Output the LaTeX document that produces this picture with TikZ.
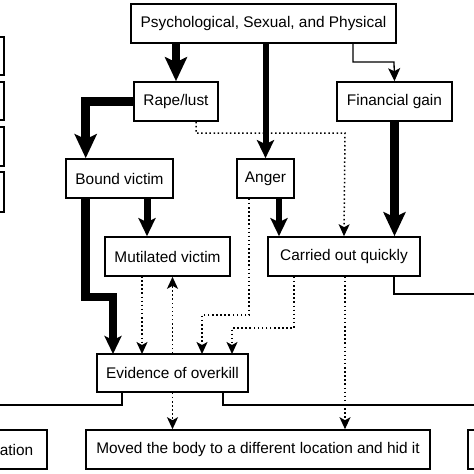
\documentclass[tikz,border=0pt]{standalone}
\usepackage{fontspec}
\setmainfont{Liberation Sans}
\usetikzlibrary{arrows.meta}
\begin{document}
\begin{tikzpicture}[x=1pt,y=-1pt,
  box/.style={draw, line width=1.6pt, rectangle, minimum height=39pt, inner sep=0pt, font=\fontsize{15.4}{18}\selectfont},
  thin/.style={line width=1.3pt},
  dotline/.style={line width=1.5pt, dash pattern=on 1.5pt off 2.6pt},
  headA/.style={-{Stealth[length=24pt,width=22pt,inset=5pt]}},
  headB/.style={-{Stealth[length=18pt,width=17pt,inset=4pt]}},
  headC/.style={-{Stealth[length=13pt,width=12pt,inset=3pt]}},
  headD/.style={-{Stealth[length=12pt,width=11pt,inset=3pt]}},
]
\useasboundingbox (0,0) rectangle (474,474);
\clip (0,0) rectangle (474,474);
\fill[white] (0,0) rectangle (474,474);

% nodes
\node[box, minimum width=265pt] (top) at (263.5,23.5) {Psychological, Sexual, and Physical};
\node[box, minimum width=84pt] (rape) at (176,101.5) {Rape/lust};
\node[box, minimum width=115pt] (fin) at (394.5,101.5) {Financial gain};
\node[box, minimum width=107pt] (bound) at (119.5,178.5) {Bound victim};
\node[box, minimum width=57pt] (anger) at (265.5,178.5) {Anger};
\node[box, minimum width=125pt] (mut) at (167.5,256.5) {Mutilated victim};
\node[box, minimum width=152pt] (carried) at (344,256.5) {Carried out quickly};
\node[box, minimum width=151pt, minimum height=38pt] (evid) at (172.5,373) {Evidence of overkill};
\node[box, minimum width=344pt] (moved) at (258,449.5) {Moved the body to a different location and hid it};
\node[box, anchor=east, inner xsep=14pt] (leftpart) at (48,449.5) {ation};
\node[box, minimum width=40pt] (rightpart) at (488,449.5) {};
\node[box, minimum width=40pt, minimum height=38pt] (l1) at (-16,56) {};
\node[box, minimum width=40pt, minimum height=38pt] (l2) at (-16,101) {};
\node[box, minimum width=40pt, minimum height=39pt] (l3) at (-16,146.5) {};
\node[box, minimum width=40pt, minimum height=40pt] (l4) at (-16,192) {};

\coordinate (eR) at (480,294);
\coordinate (eL) at (-6,405);
\coordinate (eR2) at (480,405);

% thick arrows
\draw[line width=8pt, headA] (top.south -| rape.north) -- (rape.north);
\draw[line width=8.5pt, headA] (rape.west) -| ([xshift=20.5pt]bound.north west);
\draw[line width=7pt, headB] ([xshift=27.5pt]bound.south) -- ([xshift=27.5pt]bound.south |- mut.north);
\draw[line width=8.5pt, headB] ([xshift=20.5pt]bound.south west) |- (113,297) -- (113,354);
\draw[line width=6pt, headB] (top.south -| anger.north) -- (anger.north);
\draw[line width=6pt, headB] ([xshift=13.5pt]anger.south) -- ([xshift=13.5pt]anger.south |- carried.north);
\draw[line width=9pt, headA] (fin.south) -- (fin.south |- carried.north);

% thin arrow
\draw[thin, headC] ([xshift=89.5pt]top.south) |- (394,62) -- (fin.north);

% dotted arrows
\draw[dotline, headD] ([xshift=20pt]rape.south) |- (345,133) -- (carried.north);
\draw[dotline, headD] (142,276) -- (142,354);
\draw[dotline, headD] (evid.north) -- (evid.north |- mut.south);
\draw[dotline, headD] ([xshift=-16.5pt]anger.south) |- (202,315) -- (202,354);
\draw[dotline, headD] ([xshift=-50pt]carried.south) |- (232,328) -- (232,354);
\draw[dotline, headD] (evid.south) -- (evid.south |- moved.north);
\draw[dotline, headD] ([xshift=1pt]carried.south) -- ([xshift=1pt]carried.south |- moved.north);

% thin connectors
\draw[thin] ([xshift=50pt]carried.south) |- (eR);
\draw[thin] ([xshift=-50.5pt]evid.south) |- (eL);
\draw[thin] ([xshift=50.5pt]evid.south) |- (eR2);
\end{tikzpicture}
\end{document}
